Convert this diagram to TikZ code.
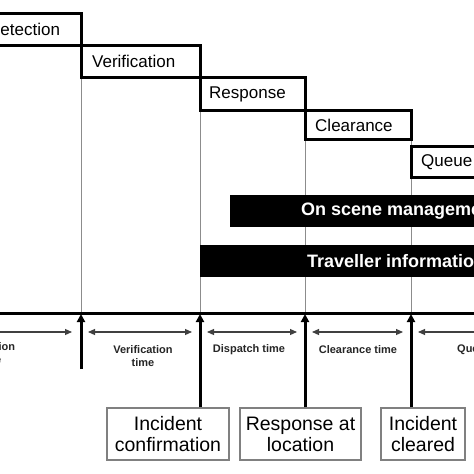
\documentclass[tikz,border=0pt]{standalone}
\usepackage{fontspec}
\setmainfont{Liberation Sans}
\usetikzlibrary{arrows.meta}
\begin{document}
\begin{tikzpicture}[x=1pt,y=-1pt,
  phasebox/.style={draw=black, line width=3pt, fill=white},
  phasetext/.style={anchor=west, inner sep=0pt, font=\fontsize{17}{20}\selectfont},
  barbox/.style={fill=black},
  bartext/.style={anchor=west, inner sep=0pt, text=white, font=\fontsize{18}{21}\selectfont\bfseries},
  guide/.style={draw=black!45, line width=0.8pt},
  timeline/.style={draw=black, line width=3pt},
  span/.style={draw=black!75, line width=1.1pt, {Triangle[length=7pt,width=6pt]}-{Triangle[length=7pt,width=6pt]}},
  spanr/.style={draw=black!75, line width=1.1pt, -{Triangle[length=7pt,width=6pt]}},
  spantext/.style={inner sep=0pt, align=center, text=black!85, font=\fontsize{11}{12.5}\selectfont\bfseries},
  event/.style={draw=black, line width=3pt, -{Triangle[length=8pt,width=8pt]}},
  eventbox/.style={draw=black!50, line width=1.3pt, fill=white, inner sep=0pt, align=center, minimum height=52pt, font=\fontsize{19.5}{21}\selectfont}
]
\useasboundingbox (0,0) rectangle (474,474);
\clip (0,0) rectangle (474,474);
\fill[white] (0,0) rectangle (474,474);

% timeline coordinates
\coordinate (t0) at (0,313);
\coordinate (tE) at (474,313);
\coordinate (t1) at (81,314);
\coordinate (t2) at (200,314);
\coordinate (t3) at (305,314);
\coordinate (t4) at (411,314);
\coordinate (t1b) at (81,369);

% guide lines
\coordinate (g1) at (81,77);
\coordinate (g2) at (200,110);
\coordinate (g3) at (305,139);
\coordinate (g4) at (411,139);
\draw[guide] (g1) -- (t1);
\draw[guide] (g2) -- (t2);
\draw[guide] (g3) -- (t3);
\draw[guide] (g4) -- (t4);

% phase boxes
\draw[phasebox] (-30,13) rectangle (81,45);
\node[phasetext] (det) at (-12,29) {Detection};
\draw[phasebox] (81,45) rectangle (200,77);
\node[phasetext] (ver) at (92,61) {Verification};
\draw[phasebox] (200,77) rectangle (305,110);
\node[phasetext] (res) at (209,94) {Response};
\draw[phasebox] (305,110) rectangle (411,139);
\node[phasetext] (clr) at (315,125) {Clearance};
\draw[phasebox] (411,146) rectangle (500,177);
\node[phasetext] (que) at (421,162) {Queue};

% bars
\fill[barbox] (230,195) rectangle (500,227);
\node[bartext] (osm) at (301,211) {On scene management};
\fill[barbox] (200,245) rectangle (500,277);
\node[bartext] (tin) at (307,261) {Traveller information};

% timeline
\draw[timeline] (t0) -- (tE);

% spans
\coordinate (s0a) at (-10,332);
\coordinate (s0b) at (72,332);
\coordinate (s1a) at (88,332);
\coordinate (s1b) at (192,332);
\coordinate (s2a) at (207,332);
\coordinate (s2b) at (297,332);
\coordinate (s3a) at (312,332);
\coordinate (s3b) at (403,332);
\coordinate (s4a) at (418,332);
\coordinate (s4b) at (520,332);
\draw[spanr] (s0a) -- (s0b);
\draw[span] (s1a) -- (s1b);
\draw[span] (s2a) -- (s2b);
\draw[span] (s3a) -- (s3b);
\draw[span] (s4a) -- (s4b);
\node[spantext] (dtt) at (-10,353) {Detection\\time};
\node[spantext] (vtt) at (143,356) {Verification\\time};
\node[spantext] (dst) at (249,350) {Dispatch time};
\node[spantext] (cltt) at (358,350) {Clearance time};
\node[spantext, anchor=west] (qtt) at (457,350) {Queue time};

% event boxes
\node[eventbox, minimum width=122pt] (conf) at (168,434) {Incident\\confirmation};
\node[eventbox, minimum width=121pt] (loc) at (300.5,434) {Response at\\location};
\node[eventbox, minimum width=84pt] (clrd) at (423,434) {Incident\\cleared};

% event arrows
\draw[event] (t1b) -- (t1);
\draw[event] (conf.north -| t2) -- (t2);
\draw[event] (loc.north -| t3) -- (t3);
\draw[event] (clrd.north -| t4) -- (t4);
\end{tikzpicture}
\end{document}
